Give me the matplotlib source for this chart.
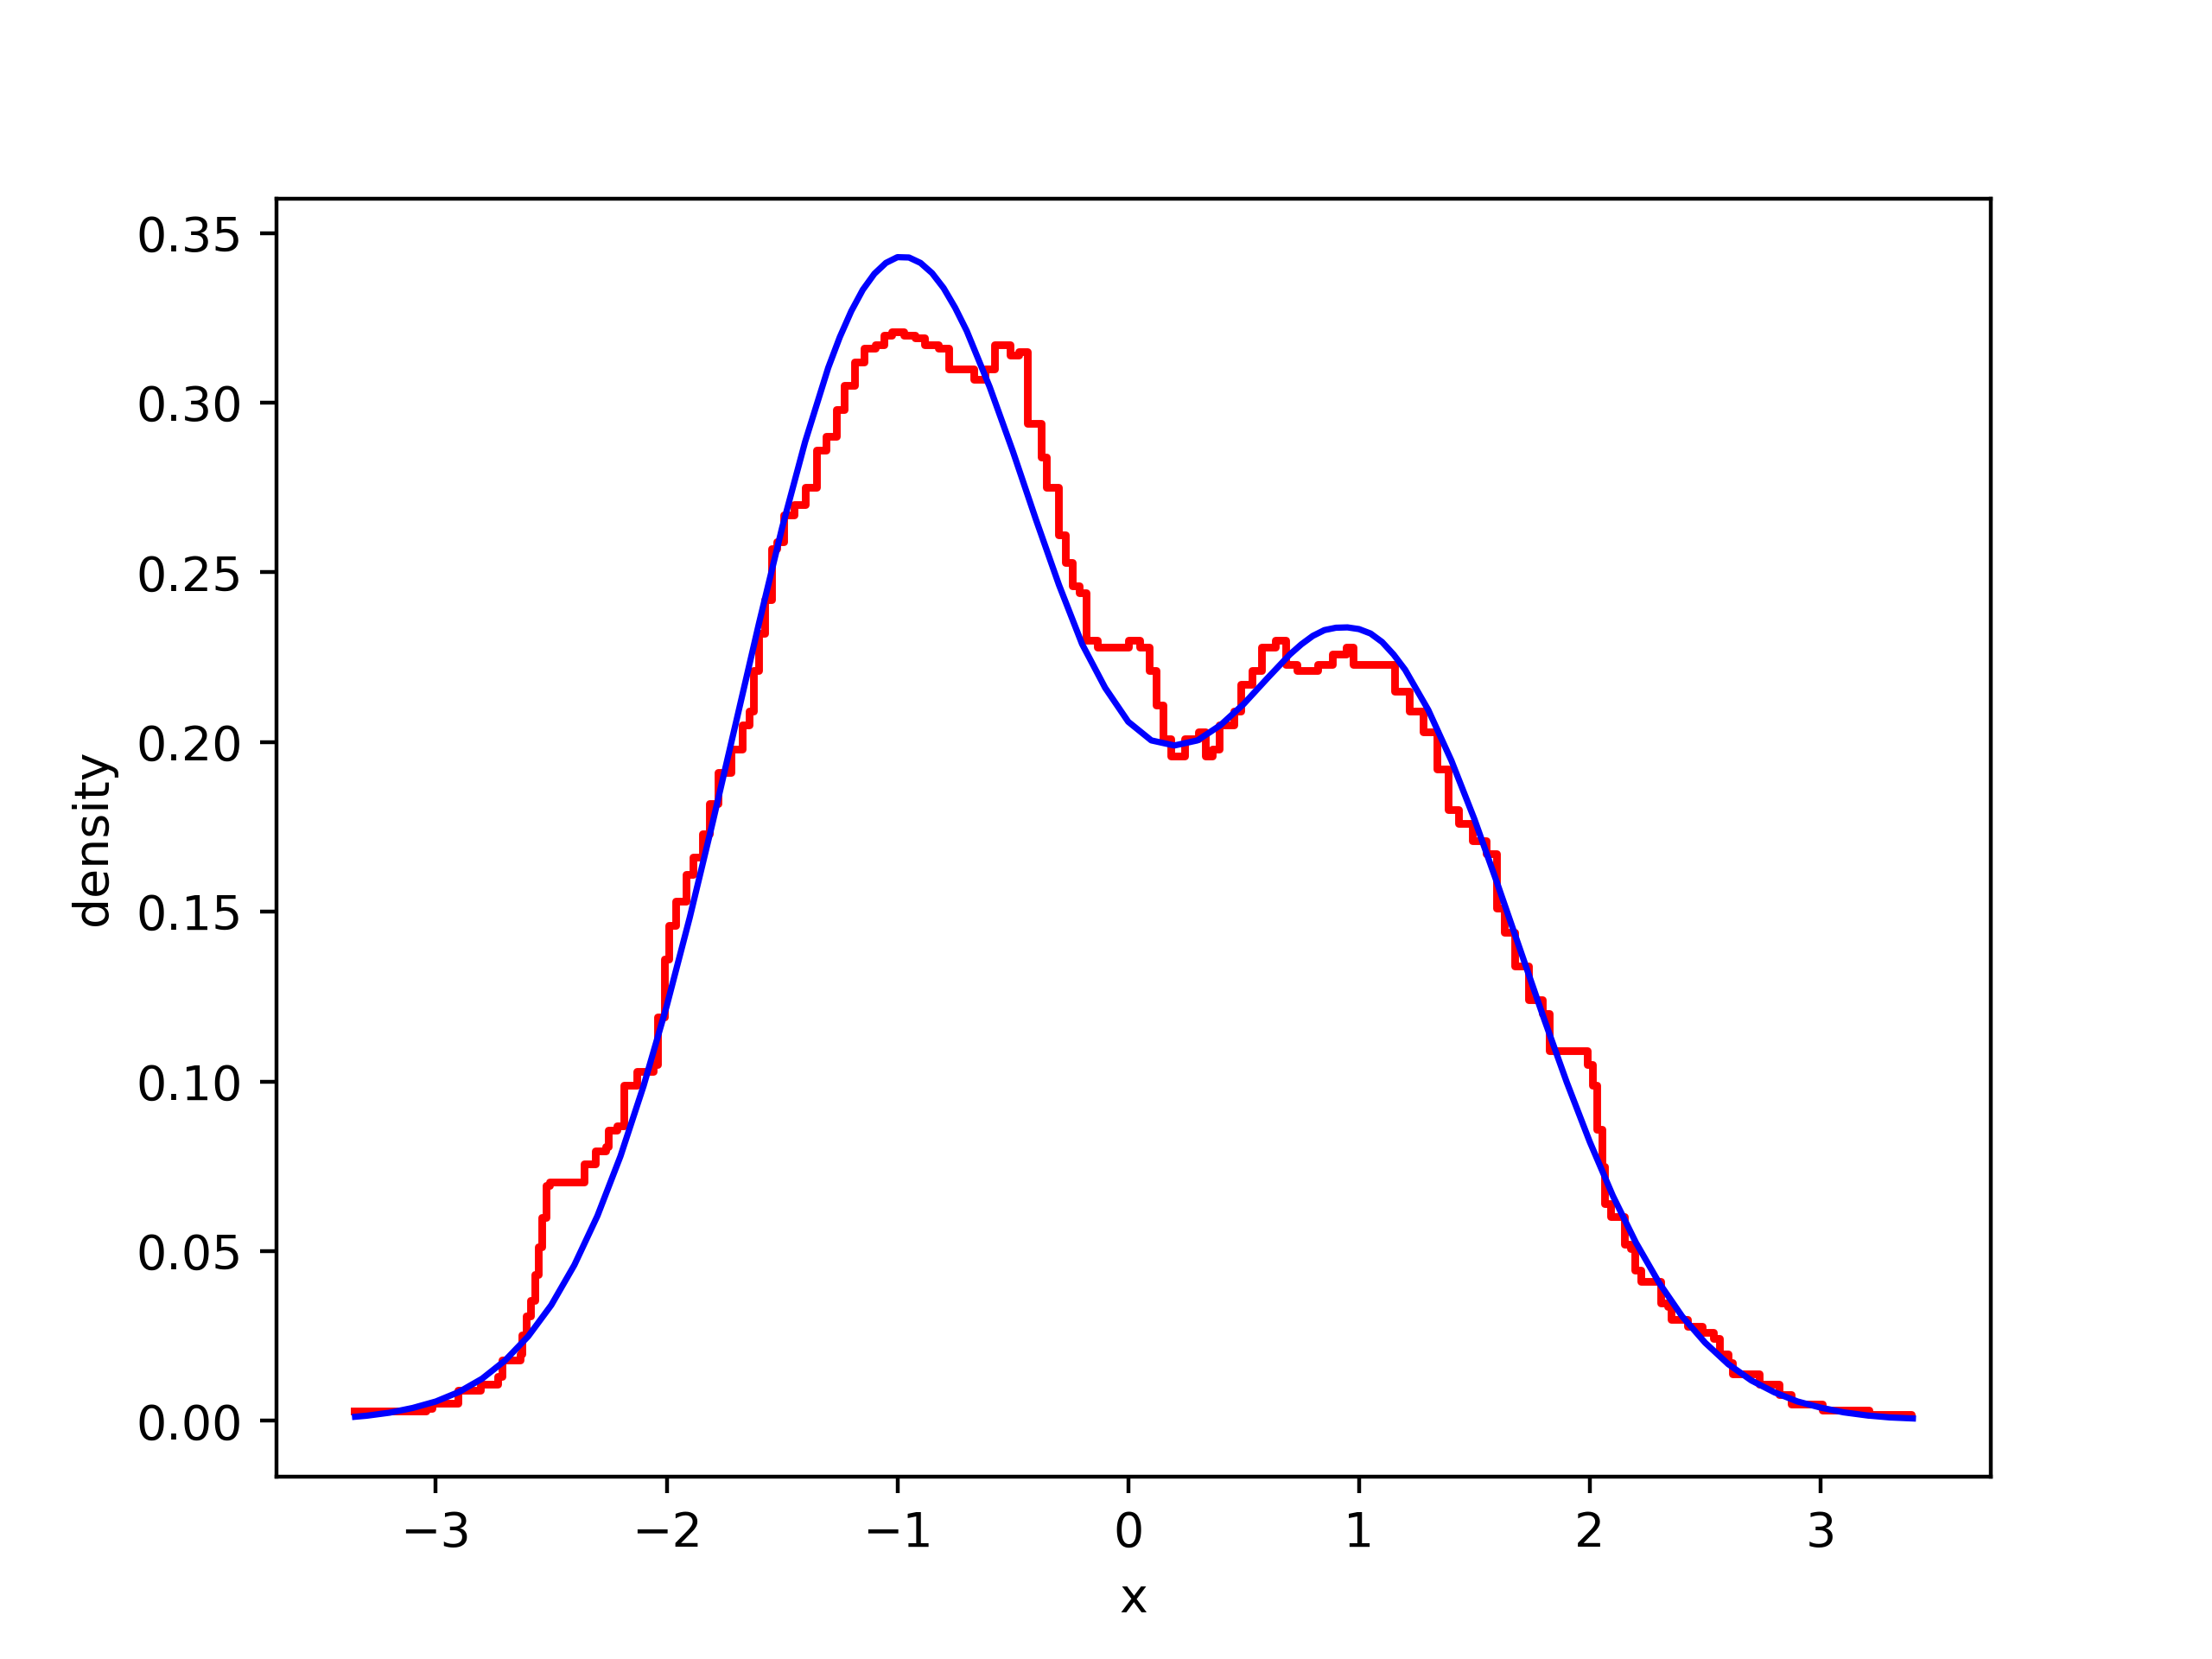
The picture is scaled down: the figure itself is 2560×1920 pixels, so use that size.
import numpy as np
import matplotlib
matplotlib.use("Agg")
import matplotlib.pyplot as plt

x_emp = [-3.353, -3.043, -3.017, -2.906, -2.807, -2.732, -2.713, -2.633, -2.626, -2.607,
         -2.589, -2.573, -2.558, -2.540, -2.521, -2.508, -2.359, -2.309, -2.266, -2.254,
         -2.217, -2.185, -2.130, -2.057,
         -2.039, -2.009, -1.990, -1.960, -1.917, -1.887, -1.844, -1.814, -1.777, -1.722,
         -1.674, -1.643, -1.625, -1.601, -1.576, -1.546, -1.522, -1.491, -1.449, -1.400,
         -1.351, -1.309, -1.266, -1.229, -1.187, -1.144, -1.096, -1.059, -1.023, -0.974,
         -0.925, -0.883, -0.822, -0.779, -0.700, -0.670, -0.621, -0.578, -0.511, -0.475,
         -0.438, -0.377, -0.353, -0.304, -0.274, -0.243, -0.213, -0.183, -0.134, -0.061,
         0.000, 0.049, 0.091, 0.122, 0.152, 0.183, 0.243, 0.304, 0.335, 0.365,
         0.396, 0.456, 0.487, 0.536, 0.578, 0.639, 0.682, 0.730, 0.822, 0.883,
         0.943, 0.974, 1.126, 1.156, 1.217, 1.278, 1.339, 1.388, 1.430, 1.491,
         1.552, 1.595, 1.631, 1.674, 1.735, 1.795, 1.826, 1.990, 2.010, 2.030,
         2.052, 2.065, 2.090, 2.151, 2.176, 2.195, 2.220, 2.307, 2.338, 2.351,
         2.425, 2.487, 2.537, 2.562, 2.599, 2.617, 2.735, 2.822, 2.872, 3.009,
         3.208, 3.394]
y_emp = [0.0028, 0.0036, 0.0053, 0.0091, 0.0108, 0.013, 0.018, 0.0197, 0.0253, 0.0308,
         0.0355, 0.043, 0.0512, 0.060, 0.0694, 0.0703, 0.0758, 0.0796, 0.0809, 0.0856,
         0.0869, 0.099, 0.103, 0.105,
         0.119, 0.136, 0.146, 0.153, 0.161, 0.166, 0.173, 0.182, 0.191, 0.198,
         0.205, 0.209, 0.221, 0.232, 0.242, 0.257, 0.259, 0.267, 0.270, 0.275,
         0.286, 0.290, 0.298, 0.305, 0.312, 0.316, 0.317, 0.320, 0.321, 0.320,
         0.319, 0.317, 0.316, 0.310, 0.310, 0.307, 0.310, 0.317, 0.314, 0.315,
         0.294, 0.284, 0.275, 0.261, 0.253, 0.246, 0.244, 0.230, 0.228, 0.228,
         0.230, 0.228, 0.221, 0.211, 0.201, 0.196, 0.201, 0.203, 0.196, 0.198,
         0.205, 0.209, 0.217, 0.221, 0.228, 0.230, 0.223, 0.221, 0.223, 0.226,
         0.228, 0.223, 0.223, 0.215, 0.209, 0.203, 0.192, 0.180, 0.176, 0.171,
         0.167, 0.151, 0.144, 0.134, 0.124, 0.120, 0.109, 0.105, 0.099, 0.086,
         0.075, 0.0639, 0.0601, 0.052, 0.0507, 0.0444, 0.041, 0.0346, 0.0337, 0.0299,
         0.0278, 0.0261, 0.0244, 0.0197, 0.0172, 0.0138, 0.0108, 0.0078, 0.0049, 0.0032,
         0.0019, 0.0017]

# true density (blue, smooth)
x_true = [-3.35, -3.3, -3.2, -3.1, -3.0, -2.9, -2.8, -2.7, -2.6, -2.5,
          -2.4, -2.3, -2.2, -2.1, -2.0, -1.9, -1.8, -1.7, -1.6, -1.5,
          -1.4, -1.3, -1.25, -1.2, -1.15, -1.1, -1.05, -1.0, -0.95, -0.9,
          -0.85, -0.8, -0.75, -0.7, -0.6, -0.5,
          -0.4, -0.3, -0.2, -0.1, 0.0, 0.1, 0.2, 0.3, 0.4, 0.5,
          0.6, 0.7, 0.75, 0.8, 0.85, 0.9, 0.95, 1.0, 1.05, 1.1, 1.15, 1.2, 1.3, 1.4, 1.5,
          1.6, 1.7, 1.8, 1.9, 2.0, 2.1, 2.2, 2.3, 2.4, 2.5,
          2.6, 2.7, 2.8, 2.9, 3.0, 3.1, 3.2, 3.3, 3.4]
y_true = [0.0012, 0.0015, 0.0024, 0.0038, 0.0057, 0.0085, 0.0124, 0.0178, 0.0249, 0.0341,
          0.0459, 0.0604, 0.0780, 0.0987, 0.1222, 0.1483, 0.1765, 0.2057, 0.2350, 0.2631,
          0.2885, 0.3103, 0.3193, 0.3270, 0.3333, 0.3380, 0.3412, 0.3429, 0.3428, 0.3412,
          0.3382, 0.3338, 0.3280, 0.3212, 0.3046, 0.2857,
          0.2656, 0.2463, 0.2289, 0.2160, 0.2060, 0.2005, 0.1990, 0.2005, 0.2050, 0.2112,
          0.2186, 0.2258, 0.2288, 0.2313, 0.2330, 0.2337, 0.2338, 0.2333, 0.2320, 0.2295,
          0.2258, 0.2213, 0.2095, 0.1946, 0.1773,
          0.1582, 0.1385, 0.1188, 0.0998, 0.0822, 0.0663, 0.0525, 0.0407, 0.0308, 0.0230,
          0.0167, 0.0119, 0.0084, 0.0057, 0.0039, 0.0025, 0.0016, 0.0010, 0.0007]

fig, ax = plt.subplots(figsize=(6.4, 4.8))
ax.plot(x_emp, y_emp, color='red', linewidth=1.6, drawstyle='steps-post')
ax.plot(x_true, y_true, color='blue', linewidth=1.3)
ax.set_xlabel("x")
ax.set_ylabel("density")
fig.savefig("out.png", dpi=400)
